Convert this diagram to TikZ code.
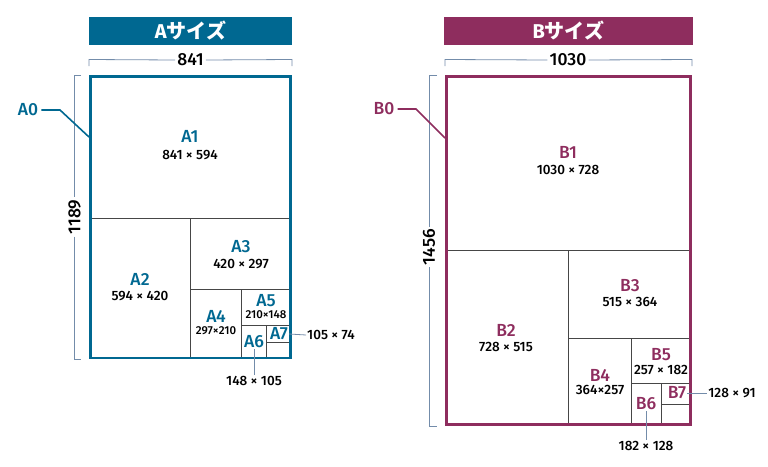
\documentclass[tikz,border=0pt]{standalone}
\usepackage{fontspec}
\setmainfont{Fira Sans}
\newfontfamily\medfont{Fira Sans Medium}
\newfontfamily\jpfont{Noto Sans CJK JP}
\definecolor{acol}{RGB}{0,104,145}
\definecolor{bcol}{RGB}{142,45,94}
\definecolor{dimcol}{RGB}{115,140,170}
\definecolor{cellgray}{RGB}{70,70,70}

\begin{document}
\begin{tikzpicture}[x=1pt, y=-1pt,
    banner/.style={minimum width=#1, minimum height=28pt, inner sep=0pt, text=white, font=\bfseries\fontsize{20}{20}\selectfont},
    sizename/.style={font=\medfont\fontsize{17.5}{17.5}\selectfont, inner sep=1pt},
    sizetxt/.style={font=\medfont\fontsize{13.5}{13.5}\selectfont, inner sep=1pt},
    tinytxt/.style={font=\medfont\fontsize{11.5}{11.5}\selectfont, inner sep=0pt},
    dimtxt/.style={font=\medfont\fontsize{17.5}{17.5}\selectfont, inner sep=2pt},
    dimline/.style={draw=dimcol, line width=0.8pt},
    cell/.style={draw=cellgray, line width=0.8pt}]
    \useasboundingbox (0,0) rectangle (768,466);

    % A series
    \node[banner=203pt, fill=acol] (atitle) at (190.5,31) {A{\jpfont サイズ}};
    \node[dimtxt] (aw) at (190.5,60) {841};
    \draw[dimline] (89,66) -- (89,59.5) -- (aw.west) (aw.east) -- (292,59.5) -- (292,66);
    \node[dimtxt, rotate=90] (ah) at (74.5,217) {1189};
    \draw[dimline] (81,75) -- (74.5,75) -- (ah.east) (ah.west) -- (74.5,359) -- (81,359);
    \draw[cell] (90,218) -- (291,218) (190,218) -- (190,358) (190,289) -- (291,289) (241,289) -- (241,358)
        (241,325) -- (291,325) (266,325) -- (266,358) (266,342) -- (291,342);
    \draw[acol, line width=2.5pt] (90.3,76.3) rectangle (290.7,358);
    \node[sizename, text=acol, inner sep=3pt] (a0) at (28,110) {A0};
    \coordinate (a0pt) at (89,137);
    \draw[acol, line width=1.6pt] (a0.east) -- (60,110) -- (a0pt);
    \node[sizename, text=acol] (a1) at (190,136) {A1};
    \node[sizetxt] (a1s) at (190,155) {841 × 594};
    \node[sizename, text=acol] (a2) at (140,279) {A2};
    \node[sizetxt] (a2s) at (140,296) {594 × 420};
    \node[sizename, text=acol] (a3) at (241,247) {A3};
    \node[sizetxt] (a3s) at (241,264) {420 × 297};
    \node[sizename, text=acol] (a4) at (216,316) {A4};
    \node[tinytxt] (a4s) at (216,331) {297×210};
    \node[sizename, text=acol] (a5) at (266,301) {A5};
    \node[tinytxt] (a5s) at (266,315) {210×148};
    \node[sizename, text=acol] (a6) at (254,342) {A6};
    \node[sizename, text=acol] (a7) at (279,334) {A7};
    \node[sizetxt] (a6s) at (254,381) {148 × 105};
    \node[sizetxt] (a7s) at (331,335) {105 × 74};
    \draw[dimline] (a6.south) -- (a6s.north);
    \draw[dimline] (a7.east) -- (a7s.west);

    % B series
    \node[banner=249pt, fill=bcol] (btitle) at (568.5,31) {B{\jpfont サイズ}};
    \node[dimtxt] (bw) at (568,60) {1030};
    \draw[dimline] (445,66) -- (445,59.5) -- (bw.west) (bw.east) -- (692,59.5) -- (692,66);
    \node[dimtxt, rotate=90] (bh) at (429,247) {1456};
    \draw[dimline] (437,75) -- (429,75) -- (bh.east) (bh.west) -- (429,426) -- (437,426);
    \draw[cell] (446,250) -- (691,250) (568,250) -- (568,424) (568,338) -- (691,338) (631,338) -- (631,424)
        (631,383) -- (691,383) (661,383) -- (661,424) (661,404) -- (691,404);
    \draw[bcol, line width=2.5pt] (446.3,76.3) rectangle (690.7,424.5);
    \node[sizename, text=bcol, inner sep=3pt] (b0) at (384,109) {B0};
    \coordinate (b0pt) at (445,138);
    \draw[bcol, line width=1.6pt] (b0.east) -- (416,109) -- (b0pt);
    \node[sizename, text=bcol] (b1) at (568,152) {B1};
    \node[sizetxt] (b1s) at (568,170) {1030 × 728};
    \node[sizename, text=bcol] (b2) at (506,330) {B2};
    \node[sizetxt] (b2s) at (506,347) {728 × 515};
    \node[sizename, text=bcol] (b3) at (630,286) {B3};
    \node[sizetxt] (b3s) at (630,302) {515 × 364};
    \node[sizename, text=bcol] (b4) at (600,375) {B4};
    \node[sizetxt] (b4s) at (600,390) {364×257};
    \node[sizename, text=bcol] (b5) at (661,355) {B5};
    \node[sizetxt] (b5s) at (661,370) {257 × 182};
    \node[sizename, text=bcol] (b6) at (646,404) {B6};
    \node[sizename, text=bcol] (b7) at (677,393) {B7};
    \node[sizetxt] (b6s) at (646,446) {182 × 128};
    \node[sizetxt] (b7s) at (732,393) {128 × 91};
    \draw[dimline] (b6.south) -- (b6s.north);
    \draw[dimline] (b7.east) -- (b7s.west);
\end{tikzpicture}
\end{document}
